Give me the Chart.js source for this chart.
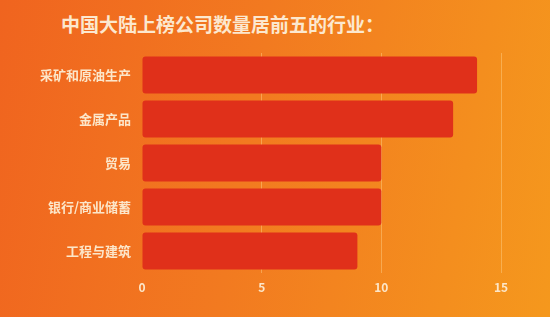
<!DOCTYPE html>
<html>
<head>
<meta charset="utf-8">
<script src="https://cdn.jsdelivr.net/npm/chart.js@4"></script>
<style>
  html, body { margin: 0; padding: 0; }
  body {
    width: 550px; height: 317px; overflow: hidden; position: relative;
    background: linear-gradient(100deg, #f0641f 0%, #f27a20 45%, #f5981d 100%);
  }
  #title {
    position: absolute; left: 61px; top: 10px; margin: 0;
    font: bold 19px "Noto Sans CJK SC", sans-serif; color: #fce8cf;
    letter-spacing: 0px; white-space: nowrap;
  }
  #wrap { position: absolute; left: 0; top: 0; width: 550px; height: 317px; }
</style>
</head>
<body>
<h1 id="title">中国大陆上榜公司数量居前五的行业：</h1>
<div id="wrap"><canvas id="c"></canvas></div>
<script>
// top five industries by number of listed companies
var industries = ['采矿和原油生产', '金属产品', '贸易', '银行/商业储蓄', '工程与建筑'];
var companyCounts = [14, 13, 10, 10, 9];
var xTicks = [0, 5, 10, 15];

var cream = '#fce6c9';

new Chart(document.getElementById('c').getContext('2d'), {
  type: 'bar',
  data: {
    labels: industries,
    datasets: [{
      data: companyCounts,
      backgroundColor: '#e0301a',
      borderWidth: 0,
      borderRadius: 3,
      borderSkipped: false,
      barPercentage: 0.84,
      categoryPercentage: 1
    }]
  },
  options: {
    indexAxis: 'y',
    responsive: true,
    maintainAspectRatio: false,
    animation: false,
    layout: { padding: { top: 53, right: 49, bottom: 0, left: 0 } },
    plugins: { legend: { display: false }, tooltip: { enabled: false } },
    scales: {
      x: {
        min: 0,
        max: 15,
        afterBuildTicks: function (scale) {
          scale.ticks = xTicks.map(function (v) { return { value: v }; });
        },
        afterFit: function (scale) { scale.height = 44; },
        border: { display: false },
        grid: {
          drawTicks: false,
          color: function (ctx) {
            return ctx.tick && ctx.tick.value === 0 ? 'rgba(0,0,0,0)' : 'rgba(255,210,140,0.45)';
          },
          lineWidth: 1
        },
        ticks: {
          padding: 7,
          color: cream,
          font: { family: '"Noto Sans CJK SC", sans-serif', size: 12, weight: 'bold' }
        }
      },
      y: {
        afterFit: function (scale) { scale.width = 142; },
        border: { display: false },
        grid: { display: false, drawTicks: false },
        ticks: {
          padding: 11,
          color: cream,
          font: { family: '"Noto Sans CJK SC", sans-serif', size: 13, weight: 'bold' }
        }
      }
    }
  }
});
</script>
</body>
</html>
